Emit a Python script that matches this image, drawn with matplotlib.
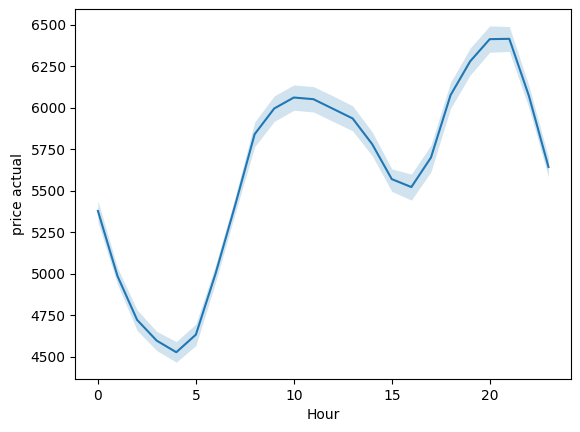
import numpy as np
import matplotlib.pyplot as plt

# hourly mean price and 95% CI
hours = list(range(24))
price_mean = [5378, 4985, 4721, 4596, 4526, 4632, 4998, 5410, 5841, 5996, 6062, 6052,
              5994, 5936, 5781, 5570, 5522, 5700, 6076, 6280, 6414, 6416, 6072, 5643]
price_low = [5310, 4935, 4657, 4536, 4466, 4566, 4945, 5360, 5765, 5918, 5985, 5975,
             5918, 5861, 5711, 5496, 5443, 5614, 5996, 6197, 6335, 6340, 6001, 5582]
price_high = [5440, 5035, 4781, 4652, 4590, 4697, 5050, 5460, 5914, 6072, 6138, 6128,
              6072, 6012, 5855, 5632, 5600, 5775, 6153, 6360, 6494, 6490, 6134, 5701]

fig, ax = plt.subplots(figsize=(5.8, 4.32), dpi=100)
fig.subplots_adjust(left=0.130, right=0.9845, top=0.979, bottom=0.1227)
ax.plot(hours, price_mean, color='C0')
ax.fill_between(hours, price_low, price_high, color='C0', alpha=0.2, linewidth=0)
ax.set_xlabel('Hour')
ax.set_ylabel('price actual')
ax.set_yticks(np.arange(4500, 6501, 250))
ax.set_xticks([0, 5, 10, 15, 20])

plt.savefig('out.png', dpi=100)
